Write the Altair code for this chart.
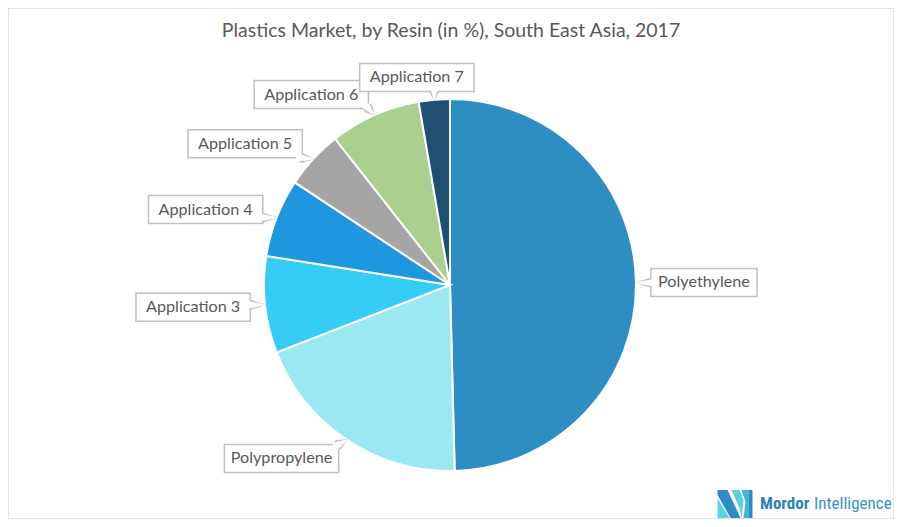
import math
import altair as alt
import pandas as pd

# ---------------- data ----------------
labels = ["Polyethylene", "Polypropylene", "Application 3", "Application 4",
          "Application 5", "Application 6", "Application 7"]
values = [49.6, 19.5, 8.4, 6.8, 5.1, 7.9, 2.7]
colors = ["#2E8EC3", "#9AE9F2", "#35CCF6", "#1E96E0", "#A5A5A5", "#A9D08E", "#1F5072"]
title_text = "Plastics Market, by Resin (in %), South East Asia, 2017"
brand_a = "Mordor"
brand_b = "Intelligence"

# ---------------- layout ----------------
W, H = 886, 511
CX, CY, R = 442, 277, 186
LABEL_FONT = "Lato"
TEXT_COLOR = "#595959"
BOX_STROKE = "#BFBFBF"

total = sum(values)
slices, boxes, leaders = [], [], []
cum = 0.0
for i, (lab, v) in enumerate(zip(labels, values)):
    start = cum / total * 2 * math.pi
    cum += v
    end = cum / total * 2 * math.pi
    mid = (start + end) / 2
    s, c = math.sin(mid), math.cos(mid)
    slices.append(dict(label=lab, value=v, idx=i, cx=CX, cy=CY))
    half_w = (8.1 * len(lab) + 9) / 2
    half_h = 14
    bx = CX + s * 1.08 * R + half_w * max(-1.0, min(1.0, s / 0.3))
    by = CY - c * 1.12 * R
    x0, x1, y0, y1 = bx - half_w, bx + half_w, by - half_h, by + half_h
    boxes.append(dict(label=lab, idx=i, x0=x0, x1=x1, y0=y0, y1=y1, bx=bx, by=by))
    ex, ey = CX + s * R, CY - c * R
    nx, ny = min(max(ex, x0), x1), min(max(ey, y0), y1)
    dx, dy = nx - ex, ny - ey
    d = math.hypot(dx, dy) or 1.0
    ux, uy = dx / d, dy / d
    leaders += [
        dict(label=lab, k=0, lx=ex, ly=ey, outer=1.2),
        dict(label=lab, k=1, lx=nx, ly=ny, outer=10.0),
    ]
    boxes[-1].update(ex=ex, ey=ey, nx=nx + ux * 2.5, ny=ny + uy * 2.5)

slice_df = pd.DataFrame(slices)
box_df = pd.DataFrame(boxes)
outer_df = pd.DataFrame(leaders)
inner_rows = []
for b in boxes:
    inner_rows.append(dict(label=b["label"], k=0, lx=b["ex"], ly=b["ey"], w=0.0))
    inner_rows.append(dict(label=b["label"], k=1, lx=b["nx"], ly=b["ny"], w=7.5))
inner_df = pd.DataFrame(inner_rows)

xs = alt.Scale(domain=[0, W], nice=False, zero=False)
ys = alt.Scale(domain=[0, H], nice=False, zero=False, reverse=True)

pie = alt.Chart(slice_df).mark_arc(outerRadius=R, stroke="white", strokeWidth=2).encode(
    x=alt.X("cx:Q", scale=xs, axis=None),
    y=alt.Y("cy:Q", scale=ys, axis=None),
    theta=alt.Theta("value:Q", stack=True),
    order=alt.Order("idx:Q"),
    color=alt.Color("label:N", scale=alt.Scale(domain=labels, range=colors), legend=None),
)

outer_trail = alt.Chart(outer_df).mark_trail(color=BOX_STROKE).encode(
    x=alt.X("lx:Q", scale=xs, axis=None),
    y=alt.Y("ly:Q", scale=ys, axis=None),
    size=alt.Size("outer:Q", scale=None, legend=None),
    detail="label:N",
    order=alt.Order("k:Q"),
)

rects = alt.Chart(box_df).mark_rect(fill="white", stroke=BOX_STROKE, strokeWidth=1.5).encode(
    x=alt.X("x0:Q", scale=xs, axis=None), x2="x1:Q",
    y=alt.Y("y0:Q", scale=ys, axis=None), y2="y1:Q",
)

inner_trail = alt.Chart(inner_df).mark_trail(color="white").encode(
    x=alt.X("lx:Q", scale=xs, axis=None),
    y=alt.Y("ly:Q", scale=ys, axis=None),
    size=alt.Size("w:Q", scale=None, legend=None),
    detail="label:N",
    order=alt.Order("k:Q"),
)

texts = alt.Chart(box_df).mark_text(font=LABEL_FONT, fontSize=16.2, color=TEXT_COLOR,
                                    align="center", baseline="middle").encode(
    x=alt.X("bx:Q", scale=xs, axis=None),
    y=alt.Y("by:Q", scale=ys, axis=None),
    text="label:N",
)

title = alt.Chart(pd.DataFrame([dict(t=title_text)])).mark_text(
    font=LABEL_FONT, fontSize=19.5, color=TEXT_COLOR, align="center", baseline="middle"
).encode(x=alt.value(W / 2), y=alt.value(23), text="t:N")

# ---------------- logo ----------------
def poly(pts, w=35, h=28, side=36):
    half = side / 2
    return "M" + "L".join(f"{(px - w / 2) / half:.3f},{(py - h / 2) / half:.3f}" for px, py in pts) + "Z"

logo_shapes = pd.DataFrame([
    dict(p=poly([(0, 8), (12, 28), (0, 28)]), c="#5AD3DF"),
    dict(p=poly([(0, 0), (10, 0), (23, 28), (13, 28), (0, 5)]), c="#2C8BC8"),
    dict(p=poly([(14, 0), (22, 0), (26, 10), (24, 28), (22, 18)]), c="#5AD3DF"),
    dict(p=poly([(24, 0), (31, 0), (31, 28), (26, 28), (28, 12)]), c="#3FB6D6"),
    dict(p=poly([(31, 0), (35, 0), (35, 28), (31, 28)]), c="#2C8BC8"),
])
logo_icon = alt.Chart(logo_shapes).mark_point(filled=True, opacity=1, strokeWidth=0, size=1296).encode(
    x=alt.value(727), y=alt.value(496),
    shape=alt.Shape("p:N", scale=None, legend=None),
    color=alt.Color("c:N", scale=None, legend=None),
)
logo_a = alt.Chart(pd.DataFrame([dict(t=brand_a)])).mark_text(
    font="Roboto Condensed, Liberation Sans Narrow, Roboto", fontSize=17, fontWeight="bold",
    color="#2F80BF", align="left", baseline="middle"
).encode(x=alt.value(752), y=alt.value(496), text="t:N")
logo_b = alt.Chart(pd.DataFrame([dict(t=brand_b)])).mark_text(
    font="Roboto Condensed, Liberation Sans Narrow, Roboto", fontSize=17,
    color="#3A8FCB", align="left", baseline="middle"
).encode(x=alt.value(806), y=alt.value(496), text="t:N")

chart = alt.layer(pie, outer_trail, rects, inner_trail, texts, title, logo_icon, logo_a, logo_b).properties(
    width=W, height=H, padding=0, autosize=alt.AutoSizeParams(type="none"),
).configure_view(stroke="#D9D9D9", strokeWidth=1.5)

chart.save("out.html", embed_options={"renderer": "svg", "actions": False})
